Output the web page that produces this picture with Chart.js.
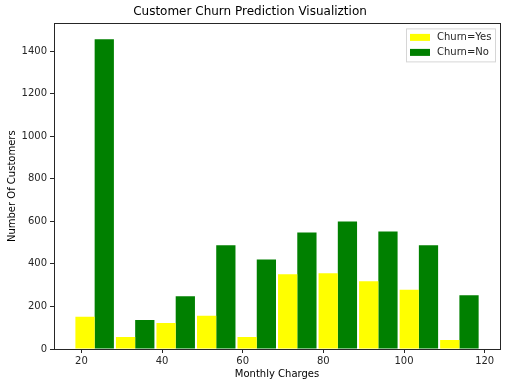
<!DOCTYPE html>
<html>
<head>
<meta charset="utf-8">
<script src="https://cdn.jsdelivr.net/npm/chart.js@4/dist/chart.umd.min.js"></script>
<style>
  html, body { margin: 0; padding: 0; background: #fff; }
  #wrap { width: 507px; height: 387px; }
</style>
</head>
<body>
<div id="wrap"><canvas id="c" width="507" height="387"></canvas></div>
<script>
// histogram bins of Monthly Charges (bin centres), counts per churn group
const binCenters = [23.28, 33.33, 43.38, 53.43, 63.48, 73.53, 83.58, 93.63, 103.68, 113.73];
const churnYes = [151, 56, 122, 156, 56, 351, 356, 318, 278, 42];
const churnNo = [1456, 136, 248, 487, 421, 548, 599, 552, 487, 253];
const xTicks = [20, 40, 60, 80, 100, 120];
const yTicks = [0, 200, 400, 600, 800, 1000, 1200, 1400];

const FONT = "'DejaVu Sans', sans-serif";

// matplotlib-like frame + legend inside the axes
const framePlugin = {
    id: 'frame',
    afterDraw(chart) {
        const ctx = chart.ctx;
        const a = chart.chartArea;
        ctx.save();
        ctx.strokeStyle = '#262626';
        ctx.lineWidth = 1;
        ctx.strokeRect(Math.round(a.left) + 0.5, Math.round(a.top) + 0.5,
            Math.round(a.right - a.left), Math.round(a.bottom - a.top));

        // legend box (upper right)
        const w = 89, h = 33;
        const bx = a.right - 5 - w, by = a.top + 5;
        ctx.fillStyle = 'rgba(255,255,255,0.8)';
        ctx.strokeStyle = '#d6d6d6';
        ctx.fillRect(bx, by, w, h);
        ctx.strokeRect(bx + 0.5, by + 0.5, w, h);
        ctx.font = '10px ' + FONT;
        ctx.textBaseline = 'middle';
        chart.data.datasets.forEach((ds, i) => {
            const cy = by + 9 + i * 15;
            ctx.fillStyle = ds.backgroundColor;
            ctx.fillRect(bx + 4, cy - 3.5, 20, 7);
            ctx.fillStyle = '#262626';
            ctx.fillText(ds.label, bx + 31, cy);
        });
        ctx.restore();
    }
};

new Chart(document.getElementById('c'), {
    type: 'bar',
    data: {
        datasets: [
            {
                label: 'Churn=Yes',
                data: binCenters.map((x, i) => ({ x: x, y: churnYes[i] })),
                backgroundColor: '#ffff00',
                categoryPercentage: 0.95,
                barPercentage: 1.0
            },
            {
                label: 'Churn=No',
                data: binCenters.map((x, i) => ({ x: x, y: churnNo[i] })),
                backgroundColor: '#008000',
                categoryPercentage: 0.95,
                barPercentage: 1.0
            }
        ]
    },
    options: {
        responsive: false,
        animation: false,
        layout: { padding: { left: 0, right: 7, top: 0, bottom: 0 } },
        plugins: {
            legend: { display: false },
            tooltip: { enabled: false },
            title: {
                display: true,
                text: 'Customer Churn Prediction Visualiztion',
                color: '#000',
                font: { family: FONT, size: 12, weight: 'normal' },
                padding: { top: 5, bottom: 4 }
            }
        },
        scales: {
            x: {
                type: 'linear',
                min: 13.2,
                max: 123.8,
                offset: false,
                afterBuildTicks: s => { s.ticks = xTicks.map(v => ({ value: v })); },
                afterFit: s => { s.height = 38; },
                grid: { display: true, offset: false, drawOnChartArea: false, tickLength: 4, tickColor: '#262626' },
                border: { display: false },
                ticks: { color: '#262626', padding: 2, maxRotation: 0, font: { family: FONT, size: 10 },
                         callback: v => String(v) },
                title: {
                    display: true,
                    text: 'Monthly Charges',
                    color: '#000',
                    font: { family: FONT, size: 10 },
                    padding: { top: 0, bottom: 7 }
                }
            },
            y: {
                min: 0,
                max: 1530,
                afterBuildTicks: s => { s.ticks = yTicks.map(v => ({ value: v })); },
                afterFit: s => { s.width = 54; },
                grid: { display: true, offset: false, drawOnChartArea: false, tickLength: 4, tickColor: '#262626' },
                border: { display: false },
                ticks: { color: '#262626', padding: 3, font: { family: FONT, size: 10 },
                         callback: v => String(v) },
                title: {
                    display: true,
                    text: 'Number Of Customers',
                    color: '#000',
                    font: { family: FONT, size: 10 },
                    padding: { top: 6, bottom: 2 }
                }
            }
        }
    },
    plugins: [framePlugin]
});
</script>
</body>
</html>
